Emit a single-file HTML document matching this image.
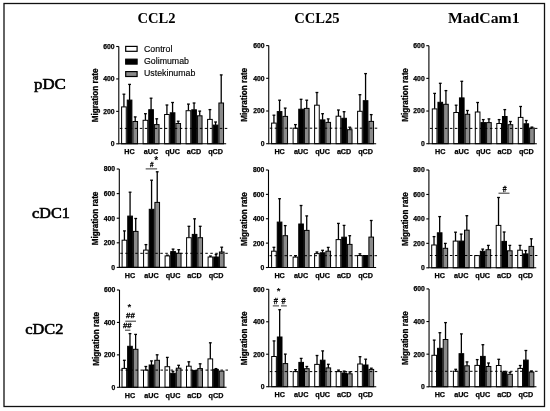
<!DOCTYPE html>
<html><head><meta charset="utf-8"><style>
html,body{margin:0;padding:0;background:#fff;}
svg{display:block;filter:blur(0.3px);}
.bar{stroke:#000;stroke-width:1;}
.eb{stroke:#000;stroke-width:1.3;}
.axis{stroke:#000;stroke-width:1.1;fill:none;}
.dash{stroke:#000;stroke-width:1;stroke-dasharray:2.5 2.5;}
.sig{stroke:#333;stroke-width:1;}
.lg{stroke:#000;stroke-width:1.2;}
text{font-family:"Liberation Sans",Arial,sans-serif;fill:#000;}
.tk{font-size:6.8px;stroke:#000;stroke-width:0.25px;font-weight:bold;text-anchor:end;}
.xl{font-size:7.2px;stroke:#000;stroke-width:0.25px;font-weight:bold;text-anchor:middle;}
.yl{font-size:8.15px;stroke:#000;stroke-width:0.3px;font-weight:bold;text-anchor:middle;}
.lt{font-size:8.8px;stroke:#000;stroke-width:0.15px;}
.st{font-weight:bold;text-anchor:middle;}
.hs{text-anchor:middle;stroke:#000;stroke-width:0.35px;}
.ti{font-family:"Liberation Serif",serif;font-size:15px;font-weight:bold;}
.rl{font-family:"Liberation Serif",serif;font-size:15px;font-weight:normal;stroke:#000;stroke-width:0.6px;}
</style></head><body>
<svg width="550" height="411" viewBox="0 0 550 411">
<rect x="4" y="3.5" width="540.5" height="403" fill="none" stroke="#111" stroke-width="1.3"/>
<text x="137.6" y="22.8" class="ti" textLength="38" lengthAdjust="spacingAndGlyphs">CCL2</text>
<text x="294.3" y="22.8" class="ti" textLength="45.3" lengthAdjust="spacingAndGlyphs">CCL25</text>
<text x="447.9" y="23.0" class="ti" textLength="71.6" lengthAdjust="spacingAndGlyphs">MadCam1</text>
<text x="34" y="88.8" class="rl" textLength="31.8" lengthAdjust="spacingAndGlyphs">pDC</text>
<text x="32.1" y="218.2" class="rl" textLength="37.6" lengthAdjust="spacingAndGlyphs">cDC1</text>
<text x="25.3" y="333.8" class="rl" textLength="38" lengthAdjust="spacingAndGlyphs">cDC2</text>
<line x1="123.92" y1="106.9" x2="123.92" y2="94.2" class="eb"/>
<line x1="122.52" y1="94.2" x2="125.33" y2="94.2" class="eb"/>
<rect x="121.6" y="106.9" width="4.65" height="36.9" fill="#fff" class="bar"/>
<line x1="129.57" y1="100.1" x2="129.57" y2="84.4" class="eb"/>
<line x1="128.17" y1="84.4" x2="130.97" y2="84.4" class="eb"/>
<rect x="127.25" y="100.1" width="4.65" height="43.7" fill="#000" class="bar"/>
<line x1="135.22" y1="121.5" x2="135.22" y2="116.9" class="eb"/>
<line x1="133.82" y1="116.9" x2="136.62" y2="116.9" class="eb"/>
<rect x="132.9" y="121.5" width="4.65" height="22.3" fill="#8a8a8a" class="bar"/>
<line x1="145.42" y1="120.3" x2="145.42" y2="113.7" class="eb"/>
<line x1="144.02" y1="113.7" x2="146.82" y2="113.7" class="eb"/>
<rect x="143.1" y="120.3" width="4.65" height="23.5" fill="#fff" class="bar"/>
<line x1="151.07" y1="109.7" x2="151.07" y2="98.2" class="eb"/>
<line x1="149.67" y1="98.2" x2="152.47" y2="98.2" class="eb"/>
<rect x="148.75" y="109.7" width="4.65" height="34.1" fill="#000" class="bar"/>
<line x1="156.72" y1="124.6" x2="156.72" y2="118.8" class="eb"/>
<line x1="155.32" y1="118.8" x2="158.12" y2="118.8" class="eb"/>
<rect x="154.4" y="124.6" width="4.65" height="19.2" fill="#8a8a8a" class="bar"/>
<line x1="166.92" y1="114.5" x2="166.92" y2="105" class="eb"/>
<line x1="165.52" y1="105" x2="168.32" y2="105" class="eb"/>
<rect x="164.6" y="114.5" width="4.65" height="29.3" fill="#fff" class="bar"/>
<line x1="172.57" y1="112.8" x2="172.57" y2="102.5" class="eb"/>
<line x1="171.17" y1="102.5" x2="173.97" y2="102.5" class="eb"/>
<rect x="170.25" y="112.8" width="4.65" height="31" fill="#000" class="bar"/>
<line x1="178.22" y1="123.5" x2="178.22" y2="121.2" class="eb"/>
<line x1="176.82" y1="121.2" x2="179.62" y2="121.2" class="eb"/>
<rect x="175.9" y="123.5" width="4.65" height="20.3" fill="#8a8a8a" class="bar"/>
<line x1="188.42" y1="110.7" x2="188.42" y2="104.1" class="eb"/>
<line x1="187.02" y1="104.1" x2="189.82" y2="104.1" class="eb"/>
<rect x="186.1" y="110.7" width="4.65" height="33.1" fill="#fff" class="bar"/>
<line x1="194.07" y1="109.8" x2="194.07" y2="103" class="eb"/>
<line x1="192.67" y1="103" x2="195.47" y2="103" class="eb"/>
<rect x="191.75" y="109.8" width="4.65" height="34" fill="#000" class="bar"/>
<line x1="199.72" y1="115.8" x2="199.72" y2="111.1" class="eb"/>
<line x1="198.32" y1="111.1" x2="201.12" y2="111.1" class="eb"/>
<rect x="197.4" y="115.8" width="4.65" height="28" fill="#8a8a8a" class="bar"/>
<line x1="209.92" y1="119.4" x2="209.92" y2="109.6" class="eb"/>
<line x1="208.52" y1="109.6" x2="211.32" y2="109.6" class="eb"/>
<rect x="207.6" y="119.4" width="4.65" height="24.4" fill="#fff" class="bar"/>
<line x1="215.57" y1="125.1" x2="215.57" y2="122" class="eb"/>
<line x1="214.17" y1="122" x2="216.97" y2="122" class="eb"/>
<rect x="213.25" y="125.1" width="4.65" height="18.7" fill="#000" class="bar"/>
<line x1="221.22" y1="103" x2="221.22" y2="74.9" class="eb"/>
<line x1="219.82" y1="74.9" x2="222.62" y2="74.9" class="eb"/>
<rect x="218.9" y="103" width="4.65" height="40.8" fill="#8a8a8a" class="bar"/>
<line x1="119.8" y1="128.4" x2="228.15" y2="128.4" class="dash"/>
<path d="M118.8 46.5V143.8H226.15" class="axis"/>
<line x1="116.2" y1="143.8" x2="118.8" y2="143.8" class="axis"/>
<text x="114.6" y="146.25" class="tk">0</text>
<line x1="116.2" y1="111.37" x2="118.8" y2="111.37" class="axis"/>
<text x="114.6" y="113.82" class="tk">200</text>
<line x1="116.2" y1="78.93" x2="118.8" y2="78.93" class="axis"/>
<text x="114.6" y="81.38" class="tk">400</text>
<line x1="116.2" y1="46.5" x2="118.8" y2="46.5" class="axis"/>
<text x="114.6" y="48.95" class="tk">600</text>
<text x="129.57" y="154.2" class="xl">HC</text>
<text x="151.07" y="154.2" class="xl">aUC</text>
<text x="172.57" y="154.2" class="xl">qUC</text>
<text x="194.07" y="154.2" class="xl">aCD</text>
<text x="215.57" y="154.2" class="xl">qCD</text>
<text transform="translate(97.8 95.45) rotate(-90)" class="yl">Migration rate</text>
<line x1="273.93" y1="123.1" x2="273.93" y2="115.2" class="eb"/>
<line x1="272.53" y1="115.2" x2="275.32" y2="115.2" class="eb"/>
<rect x="271.6" y="123.1" width="4.65" height="20.6" fill="#fff" class="bar"/>
<line x1="279.57" y1="111.6" x2="279.57" y2="100.2" class="eb"/>
<line x1="278.18" y1="100.2" x2="280.97" y2="100.2" class="eb"/>
<rect x="277.25" y="111.6" width="4.65" height="32.1" fill="#000" class="bar"/>
<line x1="285.23" y1="116.4" x2="285.23" y2="108.1" class="eb"/>
<line x1="283.83" y1="108.1" x2="286.62" y2="108.1" class="eb"/>
<rect x="282.9" y="116.4" width="4.65" height="27.3" fill="#8a8a8a" class="bar"/>
<line x1="295.43" y1="128.2" x2="295.43" y2="124.6" class="eb"/>
<line x1="294.03" y1="124.6" x2="296.82" y2="124.6" class="eb"/>
<rect x="293.1" y="128.2" width="4.65" height="15.5" fill="#fff" class="bar"/>
<line x1="301.07" y1="109.2" x2="301.07" y2="99.3" class="eb"/>
<line x1="299.68" y1="99.3" x2="302.47" y2="99.3" class="eb"/>
<rect x="298.75" y="109.2" width="4.65" height="34.5" fill="#000" class="bar"/>
<line x1="306.73" y1="108.4" x2="306.73" y2="100.2" class="eb"/>
<line x1="305.33" y1="100.2" x2="308.12" y2="100.2" class="eb"/>
<rect x="304.4" y="108.4" width="4.65" height="35.3" fill="#8a8a8a" class="bar"/>
<line x1="316.93" y1="105.2" x2="316.93" y2="92.5" class="eb"/>
<line x1="315.53" y1="92.5" x2="318.32" y2="92.5" class="eb"/>
<rect x="314.6" y="105.2" width="4.65" height="38.5" fill="#fff" class="bar"/>
<line x1="322.57" y1="119.9" x2="322.57" y2="113.7" class="eb"/>
<line x1="321.18" y1="113.7" x2="323.97" y2="113.7" class="eb"/>
<rect x="320.25" y="119.9" width="4.65" height="23.8" fill="#000" class="bar"/>
<line x1="328.23" y1="122.4" x2="328.23" y2="118.9" class="eb"/>
<line x1="326.83" y1="118.9" x2="329.62" y2="118.9" class="eb"/>
<rect x="325.9" y="122.4" width="4.65" height="21.3" fill="#8a8a8a" class="bar"/>
<line x1="338.43" y1="116.2" x2="338.43" y2="110" class="eb"/>
<line x1="337.03" y1="110" x2="339.82" y2="110" class="eb"/>
<rect x="336.1" y="116.2" width="4.65" height="27.5" fill="#fff" class="bar"/>
<line x1="344.07" y1="118.3" x2="344.07" y2="111.7" class="eb"/>
<line x1="342.68" y1="111.7" x2="345.47" y2="111.7" class="eb"/>
<rect x="341.75" y="118.3" width="4.65" height="25.4" fill="#000" class="bar"/>
<line x1="349.73" y1="129.7" x2="349.73" y2="127.2" class="eb"/>
<line x1="348.33" y1="127.2" x2="351.12" y2="127.2" class="eb"/>
<rect x="347.4" y="129.7" width="4.65" height="14" fill="#8a8a8a" class="bar"/>
<line x1="359.93" y1="111.3" x2="359.93" y2="94.7" class="eb"/>
<line x1="358.53" y1="94.7" x2="361.32" y2="94.7" class="eb"/>
<rect x="357.6" y="111.3" width="4.65" height="32.4" fill="#fff" class="bar"/>
<line x1="365.57" y1="100.7" x2="365.57" y2="73.6" class="eb"/>
<line x1="364.18" y1="73.6" x2="366.97" y2="73.6" class="eb"/>
<rect x="363.25" y="100.7" width="4.65" height="43" fill="#000" class="bar"/>
<line x1="371.23" y1="121.4" x2="371.23" y2="114.6" class="eb"/>
<line x1="369.83" y1="114.6" x2="372.62" y2="114.6" class="eb"/>
<rect x="368.9" y="121.4" width="4.65" height="22.3" fill="#8a8a8a" class="bar"/>
<line x1="269.75" y1="128.2" x2="378.15" y2="128.2" class="dash"/>
<path d="M268.75 45.6V143.7H376.15" class="axis"/>
<line x1="266.15" y1="143.7" x2="268.75" y2="143.7" class="axis"/>
<text x="264.55" y="146.15" class="tk">0</text>
<line x1="266.15" y1="111" x2="268.75" y2="111" class="axis"/>
<text x="264.55" y="113.45" class="tk">200</text>
<line x1="266.15" y1="78.3" x2="268.75" y2="78.3" class="axis"/>
<text x="264.55" y="80.75" class="tk">400</text>
<line x1="266.15" y1="45.6" x2="268.75" y2="45.6" class="axis"/>
<text x="264.55" y="48.05" class="tk">600</text>
<text x="279.58" y="154.1" class="xl">HC</text>
<text x="301.08" y="154.1" class="xl">aUC</text>
<text x="322.58" y="154.1" class="xl">qUC</text>
<text x="344.08" y="154.1" class="xl">aCD</text>
<text x="365.58" y="154.1" class="xl">qCD</text>
<text transform="translate(247.15 94.95) rotate(-90)" class="yl">Migration rate</text>
<line x1="434.62" y1="108.9" x2="434.62" y2="93.4" class="eb"/>
<line x1="433.23" y1="93.4" x2="436.02" y2="93.4" class="eb"/>
<rect x="432.3" y="108.9" width="4.65" height="34.8" fill="#fff" class="bar"/>
<line x1="440.27" y1="102.3" x2="440.27" y2="83.3" class="eb"/>
<line x1="438.88" y1="83.3" x2="441.67" y2="83.3" class="eb"/>
<rect x="437.95" y="102.3" width="4.65" height="41.4" fill="#000" class="bar"/>
<line x1="445.93" y1="104.3" x2="445.93" y2="90.6" class="eb"/>
<line x1="444.53" y1="90.6" x2="447.32" y2="90.6" class="eb"/>
<rect x="443.6" y="104.3" width="4.65" height="39.4" fill="#8a8a8a" class="bar"/>
<line x1="456.12" y1="112.5" x2="456.12" y2="105.2" class="eb"/>
<line x1="454.73" y1="105.2" x2="457.52" y2="105.2" class="eb"/>
<rect x="453.8" y="112.5" width="4.65" height="31.2" fill="#fff" class="bar"/>
<line x1="461.77" y1="97.9" x2="461.77" y2="81.3" class="eb"/>
<line x1="460.38" y1="81.3" x2="463.17" y2="81.3" class="eb"/>
<rect x="459.45" y="97.9" width="4.65" height="45.8" fill="#000" class="bar"/>
<line x1="467.43" y1="114.3" x2="467.43" y2="110.5" class="eb"/>
<line x1="466.03" y1="110.5" x2="468.82" y2="110.5" class="eb"/>
<rect x="465.1" y="114.3" width="4.65" height="29.4" fill="#8a8a8a" class="bar"/>
<line x1="477.62" y1="112" x2="477.62" y2="102.5" class="eb"/>
<line x1="476.23" y1="102.5" x2="479.02" y2="102.5" class="eb"/>
<rect x="475.3" y="112" width="4.65" height="31.7" fill="#fff" class="bar"/>
<line x1="483.27" y1="122.6" x2="483.27" y2="119.6" class="eb"/>
<line x1="481.88" y1="119.6" x2="484.67" y2="119.6" class="eb"/>
<rect x="480.95" y="122.6" width="4.65" height="21.1" fill="#000" class="bar"/>
<line x1="488.93" y1="122.6" x2="488.93" y2="118.9" class="eb"/>
<line x1="487.53" y1="118.9" x2="490.32" y2="118.9" class="eb"/>
<rect x="486.6" y="122.6" width="4.65" height="21.1" fill="#8a8a8a" class="bar"/>
<line x1="499.12" y1="123.5" x2="499.12" y2="119.6" class="eb"/>
<line x1="497.73" y1="119.6" x2="500.52" y2="119.6" class="eb"/>
<rect x="496.8" y="123.5" width="4.65" height="20.2" fill="#fff" class="bar"/>
<line x1="504.77" y1="116.5" x2="504.77" y2="109.6" class="eb"/>
<line x1="503.38" y1="109.6" x2="506.17" y2="109.6" class="eb"/>
<rect x="502.45" y="116.5" width="4.65" height="27.2" fill="#000" class="bar"/>
<line x1="510.43" y1="124.7" x2="510.43" y2="121.5" class="eb"/>
<line x1="509.03" y1="121.5" x2="511.82" y2="121.5" class="eb"/>
<rect x="508.1" y="124.7" width="4.65" height="19" fill="#8a8a8a" class="bar"/>
<line x1="520.62" y1="117.4" x2="520.62" y2="106.5" class="eb"/>
<line x1="519.23" y1="106.5" x2="522.02" y2="106.5" class="eb"/>
<rect x="518.3" y="117.4" width="4.65" height="26.3" fill="#fff" class="bar"/>
<line x1="526.27" y1="123.8" x2="526.27" y2="120.5" class="eb"/>
<line x1="524.88" y1="120.5" x2="527.67" y2="120.5" class="eb"/>
<rect x="523.95" y="123.8" width="4.65" height="19.9" fill="#000" class="bar"/>
<line x1="531.92" y1="128" x2="531.92" y2="127.1" class="eb"/>
<line x1="530.52" y1="127.1" x2="533.32" y2="127.1" class="eb"/>
<rect x="529.6" y="128" width="4.65" height="15.7" fill="#8a8a8a" class="bar"/>
<line x1="429.9" y1="128.4" x2="538.85" y2="128.4" class="dash"/>
<path d="M428.9 45.7V143.7H536.85" class="axis"/>
<line x1="426.3" y1="143.7" x2="428.9" y2="143.7" class="axis"/>
<text x="424.7" y="146.15" class="tk">0</text>
<line x1="426.3" y1="111.03" x2="428.9" y2="111.03" class="axis"/>
<text x="424.7" y="113.48" class="tk">200</text>
<line x1="426.3" y1="78.37" x2="428.9" y2="78.37" class="axis"/>
<text x="424.7" y="80.82" class="tk">400</text>
<line x1="426.3" y1="45.7" x2="428.9" y2="45.7" class="axis"/>
<text x="424.7" y="48.15" class="tk">600</text>
<text x="440.28" y="154.1" class="xl">HC</text>
<text x="461.78" y="154.1" class="xl">aUC</text>
<text x="483.28" y="154.1" class="xl">qUC</text>
<text x="504.78" y="154.1" class="xl">aCD</text>
<text x="526.27" y="154.1" class="xl">qCD</text>
<text transform="translate(407.7 95) rotate(-90)" class="yl">Migration rate</text>
<line x1="124.42" y1="240.2" x2="124.42" y2="230.9" class="eb"/>
<line x1="123.02" y1="230.9" x2="125.83" y2="230.9" class="eb"/>
<rect x="122.1" y="240.2" width="4.65" height="27.2" fill="#fff" class="bar"/>
<line x1="130.07" y1="216.1" x2="130.07" y2="192.2" class="eb"/>
<line x1="128.67" y1="192.2" x2="131.47" y2="192.2" class="eb"/>
<rect x="127.75" y="216.1" width="4.65" height="51.3" fill="#000" class="bar"/>
<line x1="135.72" y1="231.4" x2="135.72" y2="218.5" class="eb"/>
<line x1="134.32" y1="218.5" x2="137.12" y2="218.5" class="eb"/>
<rect x="133.4" y="231.4" width="4.65" height="36" fill="#8a8a8a" class="bar"/>
<line x1="145.92" y1="250.1" x2="145.92" y2="244.6" class="eb"/>
<line x1="144.52" y1="244.6" x2="147.32" y2="244.6" class="eb"/>
<rect x="143.6" y="250.1" width="4.65" height="17.3" fill="#fff" class="bar"/>
<line x1="151.57" y1="209.3" x2="151.57" y2="180.2" class="eb"/>
<line x1="150.17" y1="180.2" x2="152.97" y2="180.2" class="eb"/>
<rect x="149.25" y="209.3" width="4.65" height="58.1" fill="#000" class="bar"/>
<line x1="157.22" y1="202.4" x2="157.22" y2="171.8" class="eb"/>
<line x1="155.82" y1="171.8" x2="158.62" y2="171.8" class="eb"/>
<rect x="154.9" y="202.4" width="4.65" height="65" fill="#8a8a8a" class="bar"/>
<line x1="167.42" y1="255.9" x2="167.42" y2="255.2" class="eb"/>
<line x1="166.02" y1="255.2" x2="168.82" y2="255.2" class="eb"/>
<rect x="165.1" y="255.9" width="4.65" height="11.5" fill="#fff" class="bar"/>
<line x1="173.07" y1="251.6" x2="173.07" y2="249.1" class="eb"/>
<line x1="171.67" y1="249.1" x2="174.47" y2="249.1" class="eb"/>
<rect x="170.75" y="251.6" width="4.65" height="15.8" fill="#000" class="bar"/>
<line x1="178.72" y1="253.3" x2="178.72" y2="249.7" class="eb"/>
<line x1="177.32" y1="249.7" x2="180.12" y2="249.7" class="eb"/>
<rect x="176.4" y="253.3" width="4.65" height="14.1" fill="#8a8a8a" class="bar"/>
<line x1="188.92" y1="237.7" x2="188.92" y2="226.3" class="eb"/>
<line x1="187.52" y1="226.3" x2="190.32" y2="226.3" class="eb"/>
<rect x="186.6" y="237.7" width="4.65" height="29.7" fill="#fff" class="bar"/>
<line x1="194.57" y1="234.4" x2="194.57" y2="218.8" class="eb"/>
<line x1="193.17" y1="218.8" x2="195.97" y2="218.8" class="eb"/>
<rect x="192.25" y="234.4" width="4.65" height="33" fill="#000" class="bar"/>
<line x1="200.22" y1="237.7" x2="200.22" y2="226.3" class="eb"/>
<line x1="198.82" y1="226.3" x2="201.62" y2="226.3" class="eb"/>
<rect x="197.9" y="237.7" width="4.65" height="29.7" fill="#8a8a8a" class="bar"/>
<line x1="210.42" y1="257" x2="210.42" y2="256" class="eb"/>
<line x1="209.02" y1="256" x2="211.82" y2="256" class="eb"/>
<rect x="208.1" y="257" width="4.65" height="10.4" fill="#fff" class="bar"/>
<line x1="216.07" y1="257" x2="216.07" y2="254.5" class="eb"/>
<line x1="214.67" y1="254.5" x2="217.47" y2="254.5" class="eb"/>
<rect x="213.75" y="257" width="4.65" height="10.4" fill="#000" class="bar"/>
<line x1="221.72" y1="252" x2="221.72" y2="247.2" class="eb"/>
<line x1="220.32" y1="247.2" x2="223.12" y2="247.2" class="eb"/>
<rect x="219.4" y="252" width="4.65" height="15.4" fill="#8a8a8a" class="bar"/>
<line x1="120.3" y1="253.3" x2="228.65" y2="253.3" class="dash"/>
<path d="M119.3 169V267.4H226.65" class="axis"/>
<line x1="116.7" y1="267.4" x2="119.3" y2="267.4" class="axis"/>
<text x="115.1" y="269.85" class="tk">0</text>
<line x1="116.7" y1="242.8" x2="119.3" y2="242.8" class="axis"/>
<text x="115.1" y="245.25" class="tk">200</text>
<line x1="116.7" y1="218.2" x2="119.3" y2="218.2" class="axis"/>
<text x="115.1" y="220.65" class="tk">400</text>
<line x1="116.7" y1="193.6" x2="119.3" y2="193.6" class="axis"/>
<text x="115.1" y="196.05" class="tk">600</text>
<line x1="116.7" y1="169" x2="119.3" y2="169" class="axis"/>
<text x="115.1" y="171.45" class="tk">800</text>
<text x="130.07" y="277.8" class="xl">HC</text>
<text x="151.57" y="277.8" class="xl">aUC</text>
<text x="173.07" y="277.8" class="xl">qUC</text>
<text x="194.57" y="277.8" class="xl">aCD</text>
<text x="216.07" y="277.8" class="xl">qCD</text>
<text transform="translate(98.3 218.5) rotate(-90)" class="yl">Migration rate</text>
<line x1="273.93" y1="251.2" x2="273.93" y2="247.3" class="eb"/>
<line x1="272.53" y1="247.3" x2="275.32" y2="247.3" class="eb"/>
<rect x="271.6" y="251.2" width="4.65" height="16.3" fill="#fff" class="bar"/>
<line x1="279.57" y1="222.1" x2="279.57" y2="198.7" class="eb"/>
<line x1="278.18" y1="198.7" x2="280.97" y2="198.7" class="eb"/>
<rect x="277.25" y="222.1" width="4.65" height="45.4" fill="#000" class="bar"/>
<line x1="285.23" y1="235.7" x2="285.23" y2="225.6" class="eb"/>
<line x1="283.83" y1="225.6" x2="286.62" y2="225.6" class="eb"/>
<rect x="282.9" y="235.7" width="4.65" height="31.8" fill="#8a8a8a" class="bar"/>
<line x1="295.43" y1="257.1" x2="295.43" y2="255.7" class="eb"/>
<line x1="294.03" y1="255.7" x2="296.82" y2="255.7" class="eb"/>
<rect x="293.1" y="257.1" width="4.65" height="10.4" fill="#fff" class="bar"/>
<line x1="301.07" y1="224" x2="301.07" y2="205.5" class="eb"/>
<line x1="299.68" y1="205.5" x2="302.47" y2="205.5" class="eb"/>
<rect x="298.75" y="224" width="4.65" height="43.5" fill="#000" class="bar"/>
<line x1="306.73" y1="230.4" x2="306.73" y2="215.9" class="eb"/>
<line x1="305.33" y1="215.9" x2="308.12" y2="215.9" class="eb"/>
<rect x="304.4" y="230.4" width="4.65" height="37.1" fill="#8a8a8a" class="bar"/>
<line x1="316.93" y1="253.6" x2="316.93" y2="252" class="eb"/>
<line x1="315.53" y1="252" x2="318.32" y2="252" class="eb"/>
<rect x="314.6" y="253.6" width="4.65" height="13.9" fill="#fff" class="bar"/>
<line x1="322.57" y1="252.8" x2="322.57" y2="250.3" class="eb"/>
<line x1="321.18" y1="250.3" x2="323.97" y2="250.3" class="eb"/>
<rect x="320.25" y="252.8" width="4.65" height="14.7" fill="#000" class="bar"/>
<line x1="328.23" y1="251.2" x2="328.23" y2="247.4" class="eb"/>
<line x1="326.83" y1="247.4" x2="329.62" y2="247.4" class="eb"/>
<rect x="325.9" y="251.2" width="4.65" height="16.3" fill="#8a8a8a" class="bar"/>
<line x1="338.43" y1="239.6" x2="338.43" y2="223.4" class="eb"/>
<line x1="337.03" y1="223.4" x2="339.82" y2="223.4" class="eb"/>
<rect x="336.1" y="239.6" width="4.65" height="27.9" fill="#fff" class="bar"/>
<line x1="344.07" y1="237.2" x2="344.07" y2="225.4" class="eb"/>
<line x1="342.68" y1="225.4" x2="345.47" y2="225.4" class="eb"/>
<rect x="341.75" y="237.2" width="4.65" height="30.3" fill="#000" class="bar"/>
<line x1="349.73" y1="244.4" x2="349.73" y2="235.7" class="eb"/>
<line x1="348.33" y1="235.7" x2="351.12" y2="235.7" class="eb"/>
<rect x="347.4" y="244.4" width="4.65" height="23.1" fill="#8a8a8a" class="bar"/>
<line x1="359.93" y1="255.5" x2="359.93" y2="253.8" class="eb"/>
<line x1="358.53" y1="253.8" x2="361.32" y2="253.8" class="eb"/>
<rect x="357.6" y="255.5" width="4.65" height="12" fill="#fff" class="bar"/>
<rect x="363.25" y="255.5" width="4.65" height="12" fill="#000" class="bar"/>
<line x1="371.23" y1="237.1" x2="371.23" y2="220.5" class="eb"/>
<line x1="369.83" y1="220.5" x2="372.62" y2="220.5" class="eb"/>
<rect x="368.9" y="237.1" width="4.65" height="30.4" fill="#8a8a8a" class="bar"/>
<line x1="269.5" y1="255.7" x2="378.15" y2="255.7" class="dash"/>
<path d="M268.5 170V267.5H376.15" class="axis"/>
<line x1="265.9" y1="267.5" x2="268.5" y2="267.5" class="axis"/>
<text x="264.3" y="269.95" class="tk">0</text>
<line x1="265.9" y1="243.12" x2="268.5" y2="243.12" class="axis"/>
<text x="264.3" y="245.57" class="tk">200</text>
<line x1="265.9" y1="218.75" x2="268.5" y2="218.75" class="axis"/>
<text x="264.3" y="221.2" class="tk">400</text>
<line x1="265.9" y1="194.38" x2="268.5" y2="194.38" class="axis"/>
<text x="264.3" y="196.82" class="tk">600</text>
<line x1="265.9" y1="170" x2="268.5" y2="170" class="axis"/>
<text x="264.3" y="172.45" class="tk">800</text>
<text x="279.58" y="277.9" class="xl">HC</text>
<text x="301.08" y="277.9" class="xl">aUC</text>
<text x="322.58" y="277.9" class="xl">qUC</text>
<text x="344.08" y="277.9" class="xl">aCD</text>
<text x="365.58" y="277.9" class="xl">qCD</text>
<text transform="translate(246.9 219.05) rotate(-90)" class="yl">Migration rate</text>
<line x1="434.02" y1="245" x2="434.02" y2="236.6" class="eb"/>
<line x1="432.62" y1="236.6" x2="435.42" y2="236.6" class="eb"/>
<rect x="431.7" y="245" width="4.65" height="22.8" fill="#fff" class="bar"/>
<line x1="439.67" y1="232.8" x2="439.67" y2="216.6" class="eb"/>
<line x1="438.27" y1="216.6" x2="441.07" y2="216.6" class="eb"/>
<rect x="437.35" y="232.8" width="4.65" height="35" fill="#000" class="bar"/>
<line x1="445.32" y1="248.3" x2="445.32" y2="243.4" class="eb"/>
<line x1="443.93" y1="243.4" x2="446.72" y2="243.4" class="eb"/>
<rect x="443" y="248.3" width="4.65" height="19.5" fill="#8a8a8a" class="bar"/>
<line x1="455.52" y1="241.1" x2="455.52" y2="232.2" class="eb"/>
<line x1="454.12" y1="232.2" x2="456.92" y2="232.2" class="eb"/>
<rect x="453.2" y="241.1" width="4.65" height="26.7" fill="#fff" class="bar"/>
<line x1="461.17" y1="241.1" x2="461.17" y2="234.1" class="eb"/>
<line x1="459.77" y1="234.1" x2="462.57" y2="234.1" class="eb"/>
<rect x="458.85" y="241.1" width="4.65" height="26.7" fill="#000" class="bar"/>
<line x1="466.82" y1="230.2" x2="466.82" y2="215.7" class="eb"/>
<line x1="465.43" y1="215.7" x2="468.22" y2="215.7" class="eb"/>
<rect x="464.5" y="230.2" width="4.65" height="37.6" fill="#8a8a8a" class="bar"/>
<rect x="474.7" y="255.6" width="4.65" height="12.2" fill="#fff" class="bar"/>
<line x1="482.67" y1="251.3" x2="482.67" y2="249.1" class="eb"/>
<line x1="481.27" y1="249.1" x2="484.07" y2="249.1" class="eb"/>
<rect x="480.35" y="251.3" width="4.65" height="16.5" fill="#000" class="bar"/>
<line x1="488.32" y1="249.7" x2="488.32" y2="245.4" class="eb"/>
<line x1="486.93" y1="245.4" x2="489.72" y2="245.4" class="eb"/>
<rect x="486" y="249.7" width="4.65" height="18.1" fill="#8a8a8a" class="bar"/>
<line x1="498.52" y1="225.4" x2="498.52" y2="197.5" class="eb"/>
<line x1="497.12" y1="197.5" x2="499.92" y2="197.5" class="eb"/>
<rect x="496.2" y="225.4" width="4.65" height="42.4" fill="#fff" class="bar"/>
<line x1="504.17" y1="241.4" x2="504.17" y2="232" class="eb"/>
<line x1="502.77" y1="232" x2="505.57" y2="232" class="eb"/>
<rect x="501.85" y="241.4" width="4.65" height="26.4" fill="#000" class="bar"/>
<line x1="509.82" y1="250.8" x2="509.82" y2="245.4" class="eb"/>
<line x1="508.43" y1="245.4" x2="511.22" y2="245.4" class="eb"/>
<rect x="507.5" y="250.8" width="4.65" height="17" fill="#8a8a8a" class="bar"/>
<line x1="520.03" y1="250.2" x2="520.03" y2="245.4" class="eb"/>
<line x1="518.63" y1="245.4" x2="521.43" y2="245.4" class="eb"/>
<rect x="517.7" y="250.2" width="4.65" height="17.6" fill="#fff" class="bar"/>
<line x1="525.68" y1="253.9" x2="525.68" y2="250.6" class="eb"/>
<line x1="524.28" y1="250.6" x2="527.08" y2="250.6" class="eb"/>
<rect x="523.35" y="253.9" width="4.65" height="13.9" fill="#000" class="bar"/>
<line x1="531.33" y1="246.4" x2="531.33" y2="238.8" class="eb"/>
<line x1="529.93" y1="238.8" x2="532.73" y2="238.8" class="eb"/>
<rect x="529" y="246.4" width="4.65" height="21.4" fill="#8a8a8a" class="bar"/>
<line x1="429.9" y1="255.5" x2="538.25" y2="255.5" class="dash"/>
<path d="M428.9 170V267.8H536.25" class="axis"/>
<line x1="426.3" y1="267.8" x2="428.9" y2="267.8" class="axis"/>
<text x="424.7" y="270.25" class="tk">0</text>
<line x1="426.3" y1="243.35" x2="428.9" y2="243.35" class="axis"/>
<text x="424.7" y="245.8" class="tk">200</text>
<line x1="426.3" y1="218.9" x2="428.9" y2="218.9" class="axis"/>
<text x="424.7" y="221.35" class="tk">400</text>
<line x1="426.3" y1="194.45" x2="428.9" y2="194.45" class="axis"/>
<text x="424.7" y="196.9" class="tk">600</text>
<line x1="426.3" y1="170" x2="428.9" y2="170" class="axis"/>
<text x="424.7" y="172.45" class="tk">800</text>
<text x="439.68" y="278.2" class="xl">HC</text>
<text x="461.18" y="278.2" class="xl">aUC</text>
<text x="482.68" y="278.2" class="xl">qUC</text>
<text x="504.18" y="278.2" class="xl">aCD</text>
<text x="525.68" y="278.2" class="xl">qCD</text>
<text transform="translate(407.7 219.2) rotate(-90)" class="yl">Migration rate</text>
<line x1="124.33" y1="368.4" x2="124.33" y2="360.3" class="eb"/>
<line x1="122.92" y1="360.3" x2="125.73" y2="360.3" class="eb"/>
<rect x="122" y="368.4" width="4.65" height="18.9" fill="#fff" class="bar"/>
<line x1="129.97" y1="346.3" x2="129.97" y2="333.6" class="eb"/>
<line x1="128.57" y1="333.6" x2="131.38" y2="333.6" class="eb"/>
<rect x="127.65" y="346.3" width="4.65" height="41" fill="#000" class="bar"/>
<line x1="135.62" y1="349.3" x2="135.62" y2="334.4" class="eb"/>
<line x1="134.22" y1="334.4" x2="137.03" y2="334.4" class="eb"/>
<rect x="133.3" y="349.3" width="4.65" height="38" fill="#8a8a8a" class="bar"/>
<line x1="145.82" y1="370.1" x2="145.82" y2="366.5" class="eb"/>
<line x1="144.42" y1="366.5" x2="147.22" y2="366.5" class="eb"/>
<rect x="143.5" y="370.1" width="4.65" height="17.2" fill="#fff" class="bar"/>
<line x1="151.47" y1="365" x2="151.47" y2="360.9" class="eb"/>
<line x1="150.07" y1="360.9" x2="152.88" y2="360.9" class="eb"/>
<rect x="149.15" y="365" width="4.65" height="22.3" fill="#000" class="bar"/>
<line x1="157.12" y1="360.3" x2="157.12" y2="354.8" class="eb"/>
<line x1="155.72" y1="354.8" x2="158.53" y2="354.8" class="eb"/>
<rect x="154.8" y="360.3" width="4.65" height="27" fill="#8a8a8a" class="bar"/>
<line x1="167.32" y1="366.7" x2="167.32" y2="357.4" class="eb"/>
<line x1="165.92" y1="357.4" x2="168.72" y2="357.4" class="eb"/>
<rect x="165" y="366.7" width="4.65" height="20.6" fill="#fff" class="bar"/>
<line x1="172.97" y1="373.3" x2="172.97" y2="371.3" class="eb"/>
<line x1="171.57" y1="371.3" x2="174.38" y2="371.3" class="eb"/>
<rect x="170.65" y="373.3" width="4.65" height="14" fill="#000" class="bar"/>
<line x1="178.62" y1="368.2" x2="178.62" y2="365.3" class="eb"/>
<line x1="177.22" y1="365.3" x2="180.03" y2="365.3" class="eb"/>
<rect x="176.3" y="368.2" width="4.65" height="19.1" fill="#8a8a8a" class="bar"/>
<line x1="188.82" y1="366.2" x2="188.82" y2="361.8" class="eb"/>
<line x1="187.42" y1="361.8" x2="190.22" y2="361.8" class="eb"/>
<rect x="186.5" y="366.2" width="4.65" height="21.1" fill="#fff" class="bar"/>
<rect x="192.15" y="370.4" width="4.65" height="16.9" fill="#000" class="bar"/>
<line x1="200.12" y1="368.6" x2="200.12" y2="363.8" class="eb"/>
<line x1="198.72" y1="363.8" x2="201.53" y2="363.8" class="eb"/>
<rect x="197.8" y="368.6" width="4.65" height="18.7" fill="#8a8a8a" class="bar"/>
<line x1="210.32" y1="358.9" x2="210.32" y2="342.8" class="eb"/>
<line x1="208.92" y1="342.8" x2="211.72" y2="342.8" class="eb"/>
<rect x="208" y="358.9" width="4.65" height="28.4" fill="#fff" class="bar"/>
<line x1="215.97" y1="369.4" x2="215.97" y2="368.6" class="eb"/>
<line x1="214.57" y1="368.6" x2="217.38" y2="368.6" class="eb"/>
<rect x="213.65" y="369.4" width="4.65" height="17.9" fill="#000" class="bar"/>
<rect x="219.3" y="371.1" width="4.65" height="16.2" fill="#8a8a8a" class="bar"/>
<line x1="120.5" y1="370.1" x2="228.55" y2="370.1" class="dash"/>
<path d="M119.5 290V387.3H226.55" class="axis"/>
<line x1="116.9" y1="387.3" x2="119.5" y2="387.3" class="axis"/>
<text x="115.3" y="389.75" class="tk">0</text>
<line x1="116.9" y1="354.87" x2="119.5" y2="354.87" class="axis"/>
<text x="115.3" y="357.32" class="tk">200</text>
<line x1="116.9" y1="322.43" x2="119.5" y2="322.43" class="axis"/>
<text x="115.3" y="324.88" class="tk">400</text>
<line x1="116.9" y1="290" x2="119.5" y2="290" class="axis"/>
<text x="115.3" y="292.45" class="tk">600</text>
<text x="129.97" y="397.7" class="xl">HC</text>
<text x="151.47" y="397.7" class="xl">aUC</text>
<text x="172.97" y="397.7" class="xl">qUC</text>
<text x="194.47" y="397.7" class="xl">aCD</text>
<text x="215.97" y="397.7" class="xl">qCD</text>
<text transform="translate(98.5 338.95) rotate(-90)" class="yl">Migration rate</text>
<line x1="274.02" y1="356.5" x2="274.02" y2="340.9" class="eb"/>
<line x1="272.62" y1="340.9" x2="275.42" y2="340.9" class="eb"/>
<rect x="271.7" y="356.5" width="4.65" height="30.2" fill="#fff" class="bar"/>
<line x1="279.67" y1="337" x2="279.67" y2="309.7" class="eb"/>
<line x1="278.27" y1="309.7" x2="281.07" y2="309.7" class="eb"/>
<rect x="277.35" y="337" width="4.65" height="49.7" fill="#000" class="bar"/>
<line x1="285.32" y1="363.6" x2="285.32" y2="354.1" class="eb"/>
<line x1="283.93" y1="354.1" x2="286.72" y2="354.1" class="eb"/>
<rect x="283" y="363.6" width="4.65" height="23.1" fill="#8a8a8a" class="bar"/>
<line x1="295.52" y1="371.6" x2="295.52" y2="369.7" class="eb"/>
<line x1="294.12" y1="369.7" x2="296.92" y2="369.7" class="eb"/>
<rect x="293.2" y="371.6" width="4.65" height="15.1" fill="#fff" class="bar"/>
<line x1="301.17" y1="362.4" x2="301.17" y2="358.4" class="eb"/>
<line x1="299.77" y1="358.4" x2="302.57" y2="358.4" class="eb"/>
<rect x="298.85" y="362.4" width="4.65" height="24.3" fill="#000" class="bar"/>
<line x1="306.82" y1="368.7" x2="306.82" y2="366.5" class="eb"/>
<line x1="305.43" y1="366.5" x2="308.22" y2="366.5" class="eb"/>
<rect x="304.5" y="368.7" width="4.65" height="18" fill="#8a8a8a" class="bar"/>
<line x1="317.02" y1="364.4" x2="317.02" y2="355.5" class="eb"/>
<line x1="315.62" y1="355.5" x2="318.42" y2="355.5" class="eb"/>
<rect x="314.7" y="364.4" width="4.65" height="22.3" fill="#fff" class="bar"/>
<line x1="322.67" y1="360.2" x2="322.67" y2="350.9" class="eb"/>
<line x1="321.27" y1="350.9" x2="324.07" y2="350.9" class="eb"/>
<rect x="320.35" y="360.2" width="4.65" height="26.5" fill="#000" class="bar"/>
<line x1="328.32" y1="367.9" x2="328.32" y2="364.3" class="eb"/>
<line x1="326.93" y1="364.3" x2="329.72" y2="364.3" class="eb"/>
<rect x="326" y="367.9" width="4.65" height="18.8" fill="#8a8a8a" class="bar"/>
<line x1="338.52" y1="371.6" x2="338.52" y2="370.1" class="eb"/>
<line x1="337.12" y1="370.1" x2="339.92" y2="370.1" class="eb"/>
<rect x="336.2" y="371.6" width="4.65" height="15.1" fill="#fff" class="bar"/>
<line x1="344.17" y1="373" x2="344.17" y2="371.1" class="eb"/>
<line x1="342.77" y1="371.1" x2="345.57" y2="371.1" class="eb"/>
<rect x="341.85" y="373" width="4.65" height="13.7" fill="#000" class="bar"/>
<line x1="349.82" y1="373.8" x2="349.82" y2="371.9" class="eb"/>
<line x1="348.43" y1="371.9" x2="351.22" y2="371.9" class="eb"/>
<rect x="347.5" y="373.8" width="4.65" height="12.9" fill="#8a8a8a" class="bar"/>
<line x1="360.02" y1="364" x2="360.02" y2="356.7" class="eb"/>
<line x1="358.62" y1="356.7" x2="361.42" y2="356.7" class="eb"/>
<rect x="357.7" y="364" width="4.65" height="22.7" fill="#fff" class="bar"/>
<line x1="365.67" y1="365" x2="365.67" y2="359.2" class="eb"/>
<line x1="364.27" y1="359.2" x2="367.07" y2="359.2" class="eb"/>
<rect x="363.35" y="365" width="4.65" height="21.7" fill="#000" class="bar"/>
<line x1="371.32" y1="369.4" x2="371.32" y2="368.2" class="eb"/>
<line x1="369.93" y1="368.2" x2="372.72" y2="368.2" class="eb"/>
<rect x="369" y="369.4" width="4.65" height="17.3" fill="#8a8a8a" class="bar"/>
<line x1="269.75" y1="371.6" x2="378.25" y2="371.6" class="dash"/>
<path d="M268.75 289.3V386.7H376.25" class="axis"/>
<line x1="266.15" y1="386.7" x2="268.75" y2="386.7" class="axis"/>
<text x="264.55" y="389.15" class="tk">0</text>
<line x1="266.15" y1="354.23" x2="268.75" y2="354.23" class="axis"/>
<text x="264.55" y="356.68" class="tk">200</text>
<line x1="266.15" y1="321.77" x2="268.75" y2="321.77" class="axis"/>
<text x="264.55" y="324.22" class="tk">400</text>
<line x1="266.15" y1="289.3" x2="268.75" y2="289.3" class="axis"/>
<text x="264.55" y="291.75" class="tk">600</text>
<text x="279.68" y="397.1" class="xl">HC</text>
<text x="301.18" y="397.1" class="xl">aUC</text>
<text x="322.68" y="397.1" class="xl">qUC</text>
<text x="344.18" y="397.1" class="xl">aCD</text>
<text x="365.68" y="397.1" class="xl">qCD</text>
<text transform="translate(247.15 338.3) rotate(-90)" class="yl">Migration rate</text>
<line x1="434.22" y1="355.3" x2="434.22" y2="340.1" class="eb"/>
<line x1="432.82" y1="340.1" x2="435.62" y2="340.1" class="eb"/>
<rect x="431.9" y="355.3" width="4.65" height="31.5" fill="#fff" class="bar"/>
<line x1="439.87" y1="348.3" x2="439.87" y2="332.7" class="eb"/>
<line x1="438.47" y1="332.7" x2="441.27" y2="332.7" class="eb"/>
<rect x="437.55" y="348.3" width="4.65" height="38.5" fill="#000" class="bar"/>
<line x1="445.52" y1="339.5" x2="445.52" y2="322.6" class="eb"/>
<line x1="444.12" y1="322.6" x2="446.92" y2="322.6" class="eb"/>
<rect x="443.2" y="339.5" width="4.65" height="47.3" fill="#8a8a8a" class="bar"/>
<line x1="455.72" y1="371.2" x2="455.72" y2="369.3" class="eb"/>
<line x1="454.32" y1="369.3" x2="457.12" y2="369.3" class="eb"/>
<rect x="453.4" y="371.2" width="4.65" height="15.6" fill="#fff" class="bar"/>
<line x1="461.37" y1="353.7" x2="461.37" y2="333.9" class="eb"/>
<line x1="459.97" y1="333.9" x2="462.77" y2="333.9" class="eb"/>
<rect x="459.05" y="353.7" width="4.65" height="33.1" fill="#000" class="bar"/>
<line x1="467.02" y1="365.8" x2="467.02" y2="361.9" class="eb"/>
<line x1="465.62" y1="361.9" x2="468.42" y2="361.9" class="eb"/>
<rect x="464.7" y="365.8" width="4.65" height="21" fill="#8a8a8a" class="bar"/>
<line x1="477.22" y1="365.4" x2="477.22" y2="359.6" class="eb"/>
<line x1="475.82" y1="359.6" x2="478.62" y2="359.6" class="eb"/>
<rect x="474.9" y="365.4" width="4.65" height="21.4" fill="#fff" class="bar"/>
<line x1="482.87" y1="356.4" x2="482.87" y2="344.7" class="eb"/>
<line x1="481.47" y1="344.7" x2="484.27" y2="344.7" class="eb"/>
<rect x="480.55" y="356.4" width="4.65" height="30.4" fill="#000" class="bar"/>
<line x1="488.52" y1="366.5" x2="488.52" y2="363" class="eb"/>
<line x1="487.12" y1="363" x2="489.92" y2="363" class="eb"/>
<rect x="486.2" y="366.5" width="4.65" height="20.3" fill="#8a8a8a" class="bar"/>
<line x1="498.72" y1="365.5" x2="498.72" y2="359.3" class="eb"/>
<line x1="497.32" y1="359.3" x2="500.12" y2="359.3" class="eb"/>
<rect x="496.4" y="365.5" width="4.65" height="21.3" fill="#fff" class="bar"/>
<line x1="504.37" y1="372.3" x2="504.37" y2="371.4" class="eb"/>
<line x1="502.97" y1="371.4" x2="505.77" y2="371.4" class="eb"/>
<rect x="502.05" y="372.3" width="4.65" height="14.5" fill="#000" class="bar"/>
<line x1="510.02" y1="374.3" x2="510.02" y2="372.3" class="eb"/>
<line x1="508.62" y1="372.3" x2="511.42" y2="372.3" class="eb"/>
<rect x="507.7" y="374.3" width="4.65" height="12.5" fill="#8a8a8a" class="bar"/>
<line x1="520.23" y1="368.4" x2="520.23" y2="365.5" class="eb"/>
<line x1="518.83" y1="365.5" x2="521.62" y2="365.5" class="eb"/>
<rect x="517.9" y="368.4" width="4.65" height="18.4" fill="#fff" class="bar"/>
<line x1="525.88" y1="360.1" x2="525.88" y2="350.5" class="eb"/>
<line x1="524.48" y1="350.5" x2="527.27" y2="350.5" class="eb"/>
<rect x="523.55" y="360.1" width="4.65" height="26.7" fill="#000" class="bar"/>
<line x1="531.52" y1="372" x2="531.52" y2="371" class="eb"/>
<line x1="530.12" y1="371" x2="532.92" y2="371" class="eb"/>
<rect x="529.2" y="372" width="4.65" height="14.8" fill="#8a8a8a" class="bar"/>
<line x1="430.05" y1="371.3" x2="538.45" y2="371.3" class="dash"/>
<path d="M429.05 288.9V386.8H536.45" class="axis"/>
<line x1="426.45" y1="386.8" x2="429.05" y2="386.8" class="axis"/>
<text x="424.85" y="389.25" class="tk">0</text>
<line x1="426.45" y1="354.17" x2="429.05" y2="354.17" class="axis"/>
<text x="424.85" y="356.62" class="tk">200</text>
<line x1="426.45" y1="321.53" x2="429.05" y2="321.53" class="axis"/>
<text x="424.85" y="323.98" class="tk">400</text>
<line x1="426.45" y1="288.9" x2="429.05" y2="288.9" class="axis"/>
<text x="424.85" y="291.35" class="tk">600</text>
<text x="439.88" y="397.2" class="xl">HC</text>
<text x="461.38" y="397.2" class="xl">aUC</text>
<text x="482.88" y="397.2" class="xl">qUC</text>
<text x="504.38" y="397.2" class="xl">aCD</text>
<text x="525.88" y="397.2" class="xl">qCD</text>
<text transform="translate(407.85 338.15) rotate(-90)" class="yl">Migration rate</text>
<text x="151.8" y="167" class="hs" style="font-size:8px" textLength="3.6" lengthAdjust="spacingAndGlyphs">#</text>
<line x1="145.7" y1="168.9" x2="157.1" y2="168.9" class="sig"/>
<text x="156.1" y="164.2" class="st" style="font-size:10px">*</text>
<text x="504.7" y="191.7" class="hs" style="font-size:8.5px" textLength="3.8" lengthAdjust="spacingAndGlyphs">#</text>
<line x1="498.5" y1="193.2" x2="509.5" y2="193.2" class="sig"/>
<text x="129.3" y="310.05" class="st" style="font-size:9.5px">*</text>
<text x="130.45" y="318.1" class="hs" style="font-size:7.8px">##</text>
<line x1="125.3" y1="321.2" x2="136" y2="321.2" class="sig"/>
<text x="127.3" y="327.9" class="hs" style="font-size:7.8px">##</text>
<line x1="125" y1="330.2" x2="130.4" y2="330.2" class="sig"/>
<text x="278.6" y="294.35" class="st" style="font-size:9.5px">*</text>
<text x="275.7" y="303.6" class="hs" style="font-size:9px" textLength="4.1" lengthAdjust="spacingAndGlyphs">#</text>
<text x="283.6" y="303.6" class="hs" style="font-size:9px" textLength="4.1" lengthAdjust="spacingAndGlyphs">#</text>
<line x1="272.8" y1="305.9" x2="279" y2="305.9" class="sig"/>
<line x1="281" y1="305.9" x2="286.8" y2="305.9" class="sig"/>
<rect x="125.7" y="46.4" width="11.4" height="4.9" fill="#fff" class="lg"/>
<text x="144" y="51.6" class="lt">Control</text>
<rect x="125.7" y="59.2" width="11.4" height="4.9" fill="#000" class="lg"/>
<text x="144" y="64" class="lt">Golimumab</text>
<rect x="125.7" y="71.6" width="11.4" height="4.9" fill="#8a8a8a" class="lg"/>
<text x="144" y="76.1" class="lt">Ustekinumab</text>
</svg>
</body></html>
